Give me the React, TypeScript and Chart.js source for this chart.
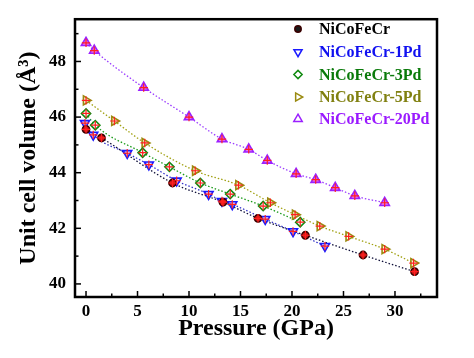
import React, { useEffect, useRef } from "react";
import { Chart, registerables } from "chart.js";
import { drawPoint } from "chart.js/helpers";

Chart.register(...registerables);

const seriesNames = ["NiCoFeCr", "NiCoFeCr-1Pd", "NiCoFeCr-3Pd", "NiCoFeCr-5Pd", "NiCoFeCr-20Pd"];

const p0 = [0, 1.5, 8.4, 13.3, 16.7, 21.3, 26.9, 31.9];
const v0 = [45.56, 45.25, 43.63, 42.94, 42.36, 41.75, 41.04, 40.44];

const p1 = [-0.1, 0.7, 4.0, 6.1, 8.8, 11.9, 13.2, 14.2, 17.4, 20.1, 23.2];
const v1 = [45.78, 45.36, 44.7, 44.29, 43.71, 43.23, 42.98, 42.86, 42.33, 41.89, 41.36];

const p3 = [0, 0.9, 5.5, 8.1, 11.1, 14.0, 17.2, 20.8];
const v3 = [46.13, 45.71, 44.72, 44.21, 43.63, 43.23, 42.8, 42.22];

const p5 = [0, 2.75, 5.7, 10.6, 14.8, 17.9, 20.3, 22.7, 25.5, 29.0, 31.8];
const v5 = [46.6, 45.86, 45.07, 44.07, 43.55, 42.92, 42.49, 42.08, 41.71, 41.25, 40.75];

const p20 = [0, 0.8, 5.6, 10.0, 13.2, 15.8, 17.6, 20.4, 22.3, 24.2, 26.1, 29.0];
const v20 = [48.67, 48.39, 47.06, 46.0, 45.21, 44.84, 44.44, 43.96, 43.75, 43.46, 43.17, 42.92];

const xTicks = [0, 5, 10, 15, 20, 25, 30];
const yTicks = [40, 42, 44, 46, 48];

const pressures = [p0, p1, p3, p5, p20];
const volumes = [v0, v1, v3, v5, v20];

const styles = [
  { pointStyle: "circle", rotation: 0, radius: 3.6, border: "#3a0000", fill: "#d01515", line: "#10103a", text: "#000000" },
  { pointStyle: "triangle", rotation: 180, radius: 5.2, border: "#1a1aff", fill: "rgba(200,120,230,0.35)", line: "#3030c8", text: "#1010f0" },
  { pointStyle: "rectRot", rotation: 0, radius: 4.6, border: "#108a10", fill: "rgba(255,255,255,0.6)", line: "#1a9a1a", text: "#0a7a0a" },
  { pointStyle: "triangle", rotation: 90, radius: 5.2, border: "#9a8a10", fill: "rgba(255,240,200,0.5)", line: "#a0a010", text: "#808010" },
  { pointStyle: "triangle", rotation: 0, radius: 5.4, border: "#9b20ff", fill: "rgba(230,70,230,0.75)", line: "#9a3cff", text: "#9a1aff" },
];

const SERIF = "'Liberation Serif', 'Times New Roman', serif";

const framePlugin = {
  id: "frameTicks",
  afterDraw(chart: any) {
    const { ctx, chartArea, scales } = chart;
    const { left, right, top, bottom } = chartArea;
    ctx.save();
    ctx.strokeStyle = "#000";
    ctx.lineWidth = 1.5;
    const xs = scales.x;
    for (let v = 0; v <= 32.5; v += 2.5) {
      const px = xs.getPixelForValue(v);
      const len = v % 5 === 0 ? 6 : 3.5;
      ctx.beginPath();
      ctx.moveTo(px, bottom);
      ctx.lineTo(px, bottom - len);
      ctx.stroke();
    }
    const ys = scales.y;
    for (let v = 40; v <= 49; v += 1) {
      const py = ys.getPixelForValue(v);
      const len = v % 2 === 0 ? 6 : 3.5;
      ctx.beginPath();
      ctx.moveTo(left, py);
      ctx.lineTo(left + len, py);
      ctx.stroke();
    }
    ctx.lineWidth = 2.5;
    ctx.strokeRect(left, top, right - left, bottom - top);

    // legend
    const lx = 298;
    const tx = 319;
    const rows = [29, 52, 74.5, 97, 119];
    ctx.font = "bold 16px " + SERIF;
    ctx.textBaseline = "middle";
    ctx.textAlign = "left";
    seriesNames.forEach((name, i) => {
      const s = styles[i];
      ctx.strokeStyle = s.border;
      ctx.fillStyle = i === 0 ? "#1a1a1a" : "rgba(255,255,255,0)";
      ctx.lineWidth = 1.5;
      drawPoint(ctx, { pointStyle: s.pointStyle, rotation: s.rotation, radius: i === 0 ? 3.2 : s.radius * 0.9, borderWidth: 1.5 }, lx, rows[i]);
      ctx.fillStyle = s.text;
      ctx.fillText(name, tx, rows[i] + 1);
    });
    ctx.restore();
  },
};

export default function App() {
  const ref = useRef<HTMLCanvasElement | null>(null);
  useEffect(() => {
    if (!ref.current) return;
    const datasets: any[] = [];
    pressures.forEach((ps, i) => {
      const pts = ps.map((p, j) => ({ x: p, y: volumes[i][j] }));
      const s = styles[i];
      datasets.push({
        label: seriesNames[i] + " fit",
        data: pts,
        showLine: true,
        borderColor: s.line,
        borderWidth: 1.3,
        borderDash: [1.5, 2],
        cubicInterpolationMode: "monotone",
        pointRadius: 0,
        order: 3,
      });
      datasets.push({
        label: seriesNames[i],
        data: pts,
        showLine: false,
        pointStyle: s.pointStyle,
        rotation: s.rotation,
        pointRadius: s.radius,
        pointBorderWidth: 1.6,
        pointBorderColor: s.border,
        pointBackgroundColor: s.fill,
        order: 2,
      });
      datasets.push({
        label: seriesNames[i] + " err",
        data: pts,
        showLine: false,
        pointStyle: "cross",
        pointRadius: 4.2,
        pointBorderWidth: 1.2,
        pointBorderColor: "#ff2020",
        order: 1,
      });
    });
    const chart = new Chart(ref.current, {
      type: "scatter",
      data: { datasets },
      options: {
        animation: false,
        responsive: true,
        maintainAspectRatio: false,
        layout: { padding: { top: 8, right: 37, bottom: 0, left: 0 } },
        plugins: { legend: { display: false }, tooltip: { enabled: false } },
        scales: {
          x: {
            type: "linear",
            min: -1.07,
            max: 34.08,
            grid: { display: false, drawTicks: false },
            border: { display: false },
            afterBuildTicks: (s: any) => { s.ticks = xTicks.map((v) => ({ value: v })); },
            afterFit: (s: any) => { s.height = 61; },
            ticks: { color: "#000", padding: 4, font: { family: SERIF, size: 17, weight: "bold" } },
            title: { display: true, text: "Pressure (GPa)", color: "#000", padding: { top: 0, bottom: 14.5 }, font: { family: SERIF, size: 24, weight: "bold" } },
          },
          y: {
            type: "linear",
            min: 39.53,
            max: 49.52,
            grid: { display: false, drawTicks: false },
            border: { display: false },
            afterBuildTicks: (s: any) => { s.ticks = yTicks.map((v) => ({ value: v })); },
            afterFit: (s: any) => { s.width = 75; },
            ticks: { color: "#000", padding: 9, font: { family: SERIF, size: 17, weight: "bold" } },
            title: { display: true, text: "Unit cell volume (Å³)", color: "#000", padding: { top: 14, bottom: 0 }, font: { family: SERIF, size: 24, weight: "bold" } },
          },
        },
      },
      plugins: [framePlugin],
    });
    return () => chart.destroy();
  }, []);
  return (
    <div style={{ position: "fixed", left: 0, top: 0, width: 474, height: 358, background: "#fff" }}>
      <canvas ref={ref} />
    </div>
  );
}
